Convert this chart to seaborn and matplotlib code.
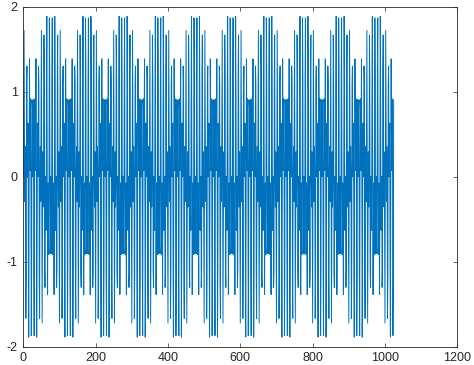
import numpy as np
import pandas as pd
import matplotlib
matplotlib.use("Agg")
import matplotlib.pyplot as plt
import seaborn as sns

# signal: two sines, 1024 samples
n_samples = 1024
freq_a = 0.13   # cycles per sample, tall spikes about every 7.7 samples
freq_b = 0.27   # about 2 * freq_a, drift gives the 100-sample up/down pattern
amp_a = 1.0
amp_b = 1.0

x_ticks = [0, 200, 400, 600, 800, 1000, 1200]
y_ticks = [-2, -1, 0, 1, 2]

n = np.arange(n_samples)
signal = amp_a * np.sin(2 * np.pi * freq_a * n) + amp_b * np.sin(2 * np.pi * freq_b * n)
df = pd.DataFrame({"sample": n + 1, "value": signal})

sns.set_style("ticks")
plt.rcParams['font.family'] = ['Liberation Sans', 'DejaVu Sans']
plt.rcParams['axes.unicode_minus'] = False

fig = plt.figure(figsize=(4.74, 3.65), dpi=100)
ax = fig.add_axes([0.0492, 0.0501, 0.9156, 0.9315])
sns.lineplot(data=df, x="sample", y="value", ax=ax, color="#0072bd",
             linewidth=0.7, estimator=None)

ax.set_xlim(0, 1200)
ax.set_ylim(-2, 2)
ax.set_xticks(x_ticks)
ax.set_yticks(y_ticks)
ax.set_xlabel("")
ax.set_ylabel("")
ax.tick_params(direction="in", top=True, right=True, length=3, width=0.5,
               labelsize=9, pad=4, colors="#262626")
for s in ax.spines.values():
    s.set_linewidth(0.6)
    s.set_color("#262626")

fig.savefig("out.png", dpi=100)
